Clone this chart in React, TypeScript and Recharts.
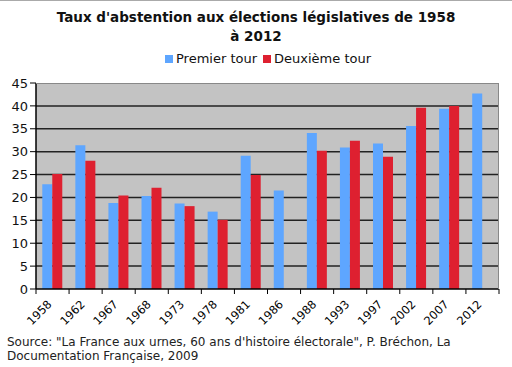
import React from "react";
import { BarChart, Bar, XAxis, YAxis, CartesianGrid } from "recharts";

const years = ["1958", "1962", "1967", "1968", "1973", "1978", "1981", "1986", "1988", "1993", "1997", "2002", "2007", "2012"];
const premierTour = [22.9, 31.4, 18.8, 20.3, 18.7, 16.9, 29.1, 21.5, 34.1, 30.9, 31.8, 35.6, 39.4, 42.7];
const deuxiemeTour: (number | null)[] = [25.1, 28.0, 20.4, 22.1, 18.1, 15.1, 24.9, null, 30.2, 32.4, 28.9, 39.6, 40.0, null];
const yTicks = [0, 5, 10, 15, 20, 25, 30, 35, 40, 45];
const gridValues = [5, 10, 15, 20, 25, 30, 35, 40];

const data = years.map((y, i) => ({ year: y, premier: premierTour[i], deuxieme: deuxiemeTour[i] }));

const W = 512;
const H = 340;
const M = { top: 83, right: 13, left: 0, bottom: 0 };
const YW = 36;
const XH = 51;
const FONT = "'DejaVu Sans', Verdana, sans-serif";
const BLUE = "#5ea6ff";
const RED = "#de2030";

const plotW = W - M.left - M.right - YW;
const step = plotW / years.length;

const XTick = (props: any) => {
  const { x, y, payload, index } = props;
  return (
    <g>
      <line x1={x - step / 2} y1={y - 8} x2={x - step / 2} y2={y - 3} stroke="#000" strokeWidth={1} />
      {index === years.length - 1 && (
        <line x1={x + step / 2} y1={y - 8} x2={x + step / 2} y2={y - 3} stroke="#000" strokeWidth={1} />
      )}
      <text
        x={x}
        y={y + 8}
        textAnchor="end"
        fontSize={11.5}
        fontFamily={FONT}
        fill="#000"
        transform={`rotate(-45 ${x} ${y + 8})`}
      >
        {payload.value}
      </text>
    </g>
  );
};

export default function App() {
  return (
    <div style={{ position: "absolute", left: 0, top: 0, width: W, height: 367, background: "#fff", fontFamily: FONT }}>
      <div style={{ position: "absolute", left: 0, top: 0, width: W, height: 1, background: "#aaa" }} />
      <div
        style={{
          position: "absolute",
          left: 0,
          top: 8,
          width: W,
          textAlign: "center",
          fontWeight: "bold",
          fontSize: 13.5,
          lineHeight: "19px",
          color: "#111",
        }}
      >
        Taux d'abstention aux élections législatives de 1958
        <br />à 2012
      </div>
      <div style={{ position: "absolute", left: 165, top: 51, whiteSpace: "nowrap", fontSize: 13, lineHeight: "16px", color: "#111" }}>
        <span style={{ display: "inline-block", width: 8, height: 8, background: BLUE, marginRight: 3 }} />
        Premier tour
        <span style={{ display: "inline-block", width: 8, height: 8, background: RED, marginLeft: 6, marginRight: 3 }} />
        Deuxième tour
      </div>
      <div style={{ position: "absolute", left: 0, top: 0 }}>
        <BarChart width={W} height={H} data={data} margin={M} barCategoryGap="19%" barGap={0}>
          <CartesianGrid fill="#c3c3c3" vertical={false} horizontalValues={gridValues} stroke="#222" strokeWidth={1.5} />
          <XAxis
            dataKey="year"
            height={XH}
            tickLine={false}
            axisLine={{ stroke: "#000", strokeWidth: 1.5 }}
            tick={<XTick />}
            interval={0}
          />
          <YAxis
            width={YW}
            domain={[0, 45]}
            ticks={yTicks}
            interval={0}
            tickSize={6}
            tickLine={{ stroke: "#000" }}
            axisLine={{ stroke: "#000", strokeWidth: 1.5 }}
            tick={{ fontSize: 13, fill: "#111", fontFamily: FONT }}
          />
          <Bar dataKey="premier" fill={BLUE} isAnimationActive={false} />
          <Bar dataKey="deuxieme" fill={RED} isAnimationActive={false} />
        </BarChart>
      </div>
      <div
        style={{
          position: "absolute",
          left: M.left + YW,
          top: M.top,
          width: plotW,
          height: H - M.top - XH,
          borderTop: "1.5px solid #888",
          borderRight: "1.5px solid #888",
          boxSizing: "border-box",
          pointerEvents: "none",
        }}
      />
      <div style={{ position: "absolute", left: 7, top: 335, fontSize: 12, lineHeight: "14px", color: "#222" }}>
        Source: "La France aux urnes, 60 ans d'histoire électorale", P. Bréchon, La
        <br />
        Documentation Française, 2009
      </div>
    </div>
  );
}
